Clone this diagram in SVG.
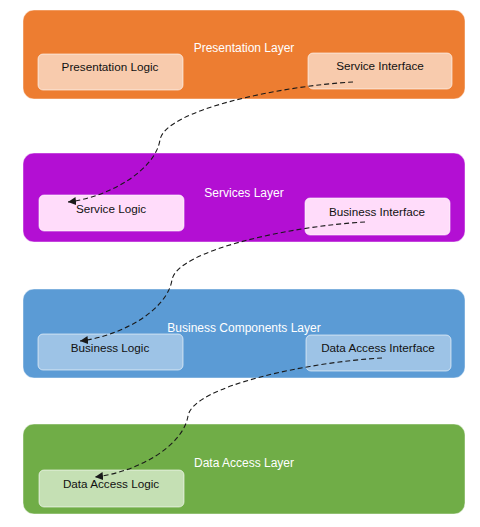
<svg xmlns="http://www.w3.org/2000/svg" width="480" height="527" viewBox="0 0 480 527">
<style>
.layer{stroke:#ffffff;stroke-opacity:0.45;stroke-width:1}
.box{stroke:#ffffff;stroke-opacity:0.6;stroke-width:1}
.lt{font-family:"Liberation Sans",Arial,sans-serif;font-size:12px;fill:#ffffff;text-anchor:middle}
.bt{font-family:"Liberation Sans",Arial,sans-serif;font-size:11.7px;fill:#111111;text-anchor:middle}
.conn{fill:none;stroke:#1a1a1a;stroke-width:1.1;stroke-dasharray:5 3}
</style>
<defs>
<marker id="arr" markerUnits="userSpaceOnUse" markerWidth="9" markerHeight="8" refX="8" refY="4" orient="auto">
<path d="M0,0 L8,4 L0,8 z" fill="#1a1a1a"/>
</marker>
</defs>
<rect width="480" height="527" fill="#ffffff"/>
<g id="presentation-layer">
<rect class="layer" x="23" y="10" width="442" height="89" rx="11" fill="#ED7D31"/>
<text class="lt" x="244" y="52">Presentation Layer</text>
</g>
<g id="presentation-logic">
<rect class="box" x="38" y="54" width="145" height="36" rx="5" fill="#F8CBAD"/>
<text class="bt" x="110" y="71">Presentation Logic</text>
</g>
<g id="service-interface">
<rect class="box" x="308" y="53" width="144" height="36" rx="5" fill="#F8CBAD"/>
<text class="bt" x="380" y="70">Service Interface</text>
</g>
<g id="services-layer">
<rect class="layer" x="23" y="153" width="442" height="89" rx="11" fill="#B30FD3"/>
<text class="lt" x="244" y="197">Services Layer</text>
</g>
<g id="service-logic">
<rect class="box" x="39" y="195" width="145" height="36" rx="5" fill="#FFDCFA"/>
<text class="bt" x="111" y="213">Service Logic</text>
</g>
<g id="business-interface">
<rect class="box" x="305" y="198" width="145" height="37" rx="5" fill="#FFDCFA"/>
<text class="bt" x="377" y="216">Business Interface</text>
</g>
<g id="business-layer">
<rect class="layer" x="23" y="289" width="442" height="89" rx="11" fill="#5B9BD5"/>
<text class="lt" x="244" y="332">Business Components Layer</text>
</g>
<g id="business-logic">
<rect class="box" x="38" y="334" width="145" height="36" rx="5" fill="#9DC3E6"/>
<text class="bt" x="110" y="352">Business Logic</text>
</g>
<g id="data-access-interface">
<rect class="box" x="306" y="335" width="145" height="36" rx="5" fill="#9DC3E6"/>
<text class="bt" x="378" y="352">Data Access Interface</text>
</g>
<g id="data-access-layer">
<rect class="layer" x="23" y="424" width="442" height="90" rx="11" fill="#70AD47"/>
<text class="lt" x="244" y="467">Data Access Layer</text>
</g>
<g id="data-access-logic">
<rect class="box" x="39" y="470" width="145" height="37" rx="5" fill="#C5E0B4"/>
<text class="bt" x="111" y="488">Data Access Logic</text>
</g>
<g id="connectors">
<path class="conn" marker-end="url(#arr)" d="M353,82 C280,86 165,110 160,140 C155,170 110,197 68,202"/>
<path class="conn" marker-end="url(#arr)" d="M365,222 C292,226 177,250 172,280 C167,310 122,336 80,341"/>
<path class="conn" marker-end="url(#arr)" d="M382,358 C309,362 193,386 188,416 C183,446 138,472 95,477"/>
</g>
</svg>
